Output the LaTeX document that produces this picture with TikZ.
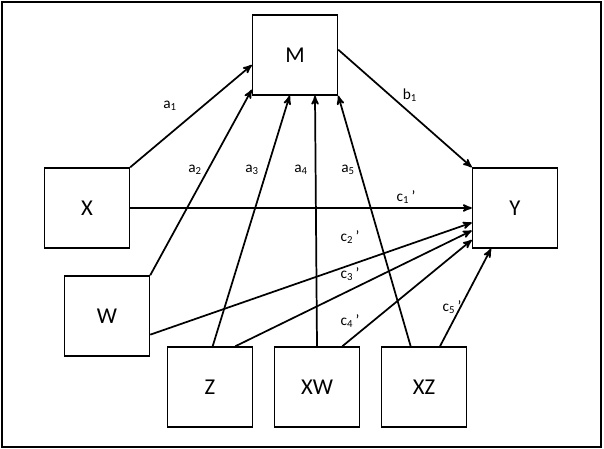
\documentclass[tikz,border=0pt]{standalone}
\usepackage{fontspec}
\setmainfont{Carlito}
\usetikzlibrary{arrows}
\begin{document}
\begin{tikzpicture}[x=0.75pt,y=-0.75pt,
  box/.style={draw,line width=1.1pt,minimum width=63.75pt,minimum height=60pt,font=\fontsize{17}{17}\selectfont},
  path/.style={->,>=stealth',line width=1.3pt},
  lab/.style={font=\fontsize{11.5}{11.5}\selectfont}]

		\draw[line width=1.1pt] (2,2) rectangle (601,447);
		\useasboundingbox (0,0) rectangle (604,449);

		\node[box] (M) at (295,55) {M};
		\node[box] (X) at (87,208) {X};
		\node[box] (Y) at (515,208) {Y};
		\node[box] (W) at (107,316) {W};
		\node[box] (Z) at (210,387) {Z};
		\node[box] (XW) at (317,387) {XW};
		\node[box] (XZ) at (424,387) {XZ};

		\draw[path] (X.north east) to ([yshift=-7.5pt]M.west);
		\draw[path] (W.north east) to ([yshift=-26pt]M.west);
		\draw[path] ([xshift=2pt]Z.north) to ([xshift=-4pt]M.south);
		\draw[path] (XW.north) to ([xshift=15pt]M.south);
		\draw[path] ([xshift=-10pt]XZ.north) to (M.south east);
		\draw[path] ([yshift=4pt]M.east) to (Y.north west);

		\draw[path] (X.east) to (Y.west);
		\draw[path] ([yshift=-14pt]W.east) to ([yshift=-11pt]Y.west);
		\draw[path] ([xshift=19pt]Z.north) to ([yshift=-17pt]Y.west);
		\draw[path] ([xshift=19pt]XW.north) to ([yshift=-24pt]Y.west);
		\draw[path] ([xshift=12pt]XZ.north) to ([xshift=-18pt]Y.south);

		\node[lab] (la1) at (170,106) {a\textsubscript{1}};
		\node[lab] (la2) at (195,170) {a\textsubscript{2}};
		\node[lab] (la3) at (252,170) {a\textsubscript{3}};
		\node[lab] (la4) at (301,170) {a\textsubscript{4}};
		\node[lab] (la5) at (348,170) {a\textsubscript{5}};
		\node[lab] (lb1) at (410,95) {b\textsubscript{1}};
		\node[lab] (lc1) at (406,197) {c\textsubscript{1}\,'};
		\node[lab] (lc2) at (350,237) {c\textsubscript{2}\,'};
		\node[lab] (lc3) at (350,274) {c\textsubscript{3}\,'};
		\node[lab] (lc4) at (350,321) {c\textsubscript{4}\,'};
		\node[lab] (lc5) at (452,307) {c\textsubscript{5}\,'};
\end{tikzpicture}
\end{document}
